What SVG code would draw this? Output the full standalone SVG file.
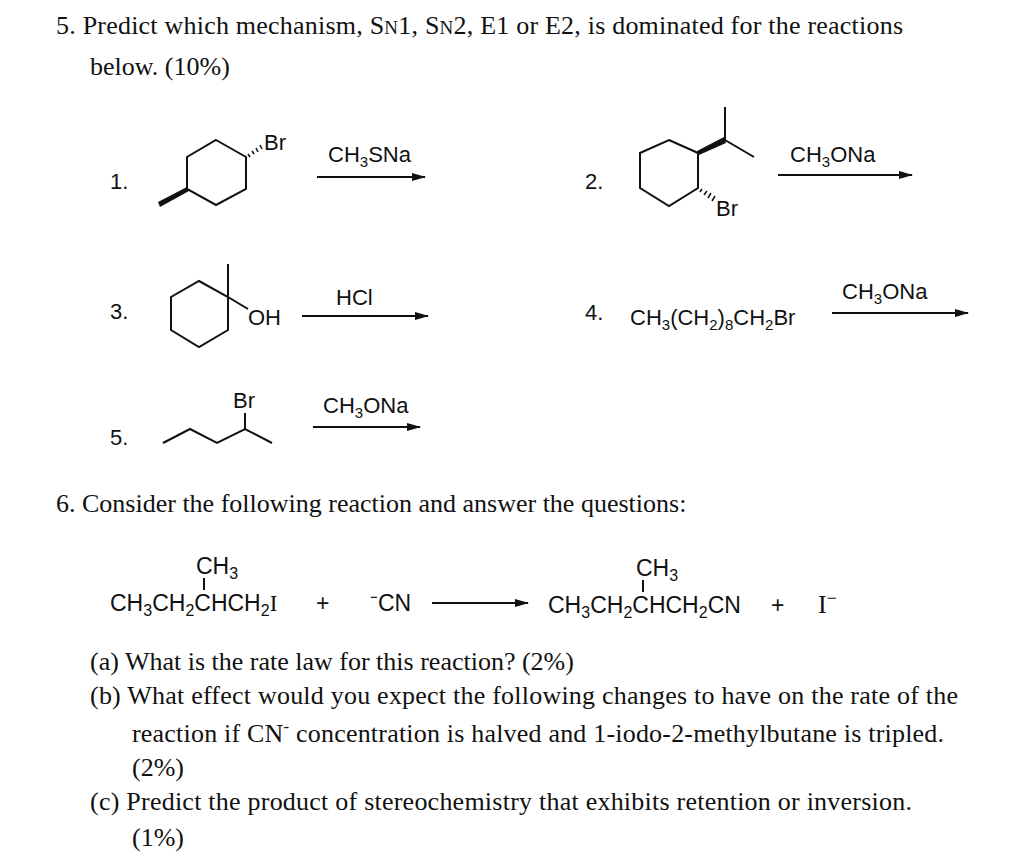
<svg xmlns="http://www.w3.org/2000/svg" width="1024" height="859" viewBox="0 0 1024 859">
<style>
.s{font-family:"Liberation Serif",serif;font-size:26px;fill:#111}
.c{font-family:"Liberation Sans",Arial,sans-serif;font-size:22px;fill:#111}
.d{font-family:"Liberation Sans",Arial,sans-serif;font-size:23px;fill:#111}
.b{fill:none;stroke:#111;stroke-width:2}
</style>
<defs><marker id="ar" markerWidth="14" markerHeight="8" refX="13" refY="4" orient="auto" markerUnits="userSpaceOnUse"><path d="M0,0L14,4L0,8z" fill="#111"/></marker></defs>
<rect width="1024" height="859" fill="#fff"/>
<text class="s" x="56" y="34" textLength="847">5.  Predict which mechanism, S<tspan font-size="19">N</tspan>1, S<tspan font-size="19">N</tspan>2, E1 or E2, is dominated for the reactions</text>
<text class="s" x="90" y="75">below. (10%)</text>
<g id="r1">
<text class="c" x="110" y="189">1.</text>
<polygon class="b" points="216,140 246,157 246,189 216,205 187,189 187,157"/>
<polygon points="187,187 189,191 160,207 158,202" fill="#111"/>
<g stroke="#111" stroke-width="1.5"><line x1="248" y1="154" x2="250" y2="157"/><line x1="252" y1="151" x2="254" y2="154"/><line x1="256" y1="148" x2="258" y2="152"/><line x1="260" y1="145" x2="262" y2="149"/></g>
<text class="c" x="264" y="150">Br</text>
<text class="c" x="328" y="162">CH<tspan font-size="15" dy="5">3</tspan><tspan dy="-5">SNa</tspan></text>
<line class="b" x1="317" y1="177" x2="425" y2="177" marker-end="url(#ar)"/>
</g>
<g id="r2">
<text class="c" x="585" y="189">2.</text>
<polygon class="b" points="669,140 698,153 698,188 669,206 640,188 640,153"/>
<polygon points="697,151 699,155 726,143 724,137" fill="#111"/>
<polyline class="b" points="725,107 725,140 754,157"/>
<g stroke="#111" stroke-width="1.5"><line x1="700" y1="192" x2="702" y2="189"/><line x1="704" y1="195" x2="707" y2="191"/><line x1="708" y1="198" x2="711" y2="193"/><line x1="712" y1="201" x2="715" y2="196"/></g>
<text class="c" x="716" y="216">Br</text>
<text class="c" x="790" y="162">CH<tspan font-size="15" dy="5">3</tspan><tspan dy="-5">ONa</tspan></text>
<line class="b" x1="778" y1="175" x2="912" y2="175" marker-end="url(#ar)"/>
</g>
<g id="r3">
<text class="c" x="110" y="319">3.</text>
<polygon class="b" points="199,281 228,297 228,330 199,347 171,330 171,297"/>
<polyline class="b" points="228,264 228,297 248,309"/>
<text class="c" x="248" y="325">OH</text>
<text class="c" x="336" y="305">HCl</text>
<line class="b" x1="302" y1="316" x2="428" y2="316" marker-end="url(#ar)"/>
</g>
<g id="r4">
<text class="c" x="585" y="320">4.</text>
<text class="c" x="630" y="325">CH<tspan font-size="15" dy="5">3</tspan><tspan dy="-5">(CH</tspan><tspan font-size="15" dy="5">2</tspan><tspan dy="-5">)</tspan><tspan font-size="15" dy="5">8</tspan><tspan dy="-5">CH</tspan><tspan font-size="15" dy="5">2</tspan><tspan dy="-5">Br</tspan></text>
<text class="c" x="842" y="299">CH<tspan font-size="15" dy="5">3</tspan><tspan dy="-5">ONa</tspan></text>
<line class="b" x1="832" y1="313" x2="968" y2="313" marker-end="url(#ar)"/>
</g>
<g id="r5">
<text class="c" x="110" y="445">5.</text>
<polyline class="b" points="163,443 190,429 217,443 245,429 272,443"/>
<line class="b" x1="245" y1="429" x2="245" y2="413"/>
<text class="c" x="233" y="408">Br</text>
<text class="c" x="323" y="413">CH<tspan font-size="15" dy="5">3</tspan><tspan dy="-5">ONa</tspan></text>
<line class="b" x1="313" y1="427" x2="420" y2="427" marker-end="url(#ar)"/>
</g>
<text class="s" x="56" y="512">6.  Consider the following reaction and answer the questions:</text>
<g id="r6">
<text class="d" x="196" y="574">CH<tspan font-size="16" dy="5">3</tspan></text>
<line class="b" x1="204" y1="578" x2="204" y2="590" stroke-width="1.5"/>
<text class="d" x="110" y="611">CH<tspan font-size="16" dy="5">3</tspan><tspan dy="-5">CH</tspan><tspan font-size="16" dy="5">2</tspan><tspan dy="-5">CHCH</tspan><tspan font-size="16" dy="5">2</tspan><tspan dy="-5" font-family="Liberation Serif">I</tspan></text>
<text class="d" x="316" y="611">+</text>
<text class="d" x="370" y="611">⁻CN</text>
<line class="b" x1="432" y1="603" x2="528" y2="603" marker-end="url(#ar)"/>
<text class="d" x="636" y="576">CH<tspan font-size="16" dy="5">3</tspan></text>
<line class="b" x1="643" y1="580" x2="643" y2="592" stroke-width="1.5"/>
<text class="d" x="548" y="613">CH<tspan font-size="16" dy="5">3</tspan><tspan dy="-5">CH</tspan><tspan font-size="16" dy="5">2</tspan><tspan dy="-5">CHCH</tspan><tspan font-size="16" dy="5">2</tspan><tspan dy="-5">CN</tspan></text>
<text class="d" x="771" y="613">+</text>
<text class="s" x="818" y="613">I<tspan font-size="18" dy="-9">−</tspan></text>
</g>
<text class="s" x="90" y="670">(a)  What is the rate law for this reaction? (2%)</text>
<text class="s" x="90" y="704" textLength="868">(b)  What effect would you expect the following changes to have on the rate of the</text>
<text class="s" x="132" y="742" textLength="812">reaction if CN<tspan font-size="17" dy="-10">-</tspan><tspan dy="10"> concentration is halved and 1-iodo-2-methylbutane is tripled.</tspan></text>
<text class="s" x="132" y="776">(2%)</text>
<text class="s" x="90" y="810" textLength="822">(c)  Predict the product of stereochemistry that exhibits retention or inversion.</text>
<text class="s" x="132" y="846">(1%)</text>
</svg>
